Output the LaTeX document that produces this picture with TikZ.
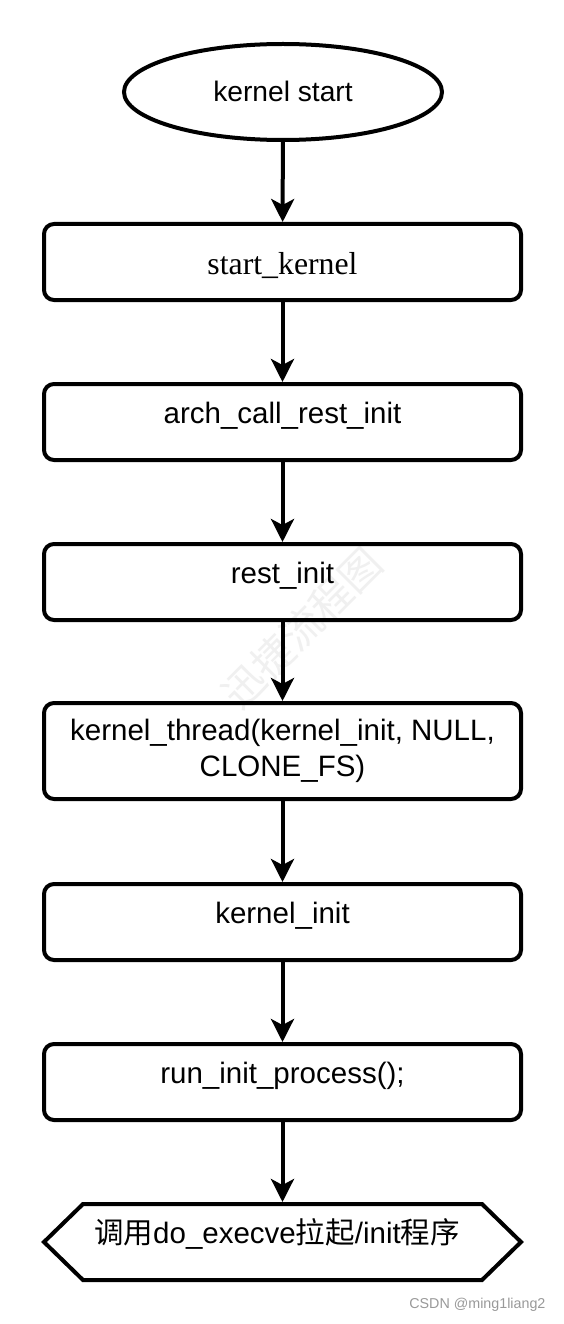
\documentclass[tikz,border=0pt]{standalone}
\usepackage{fontspec}
\setmainfont{Liberation Sans}
\newfontfamily\seriffont{Liberation Serif}
\newfontfamily\cjk{Noto Sans CJK SC}
\usetikzlibrary{shapes.geometric,arrows.meta}
\begin{document}
\begin{tikzpicture}[x=1pt,y=-1pt,
  txt/.style={font=\fontsize{29.5}{36}\selectfont},
  boxbase/.style={draw, line width=4pt, rounded corners=10pt, minimum width=477pt, minimum height=76pt, inner sep=0pt, align=center, txt},
  box/.style={boxbase, text height=12pt, text depth=10pt},
  flow/.style={line width=4pt, -{Stealth[length=23pt,width=23pt,inset=6pt]}}]
\useasboundingbox[fill=white] (0,0) rectangle (564,1324);
% watermark
\node[rotate=45, text=black!6, font=\cjk\fontsize{41}{44}\selectfont] (wm) at (302,628) {迅捷流程图};
\node[draw, line width=4pt, ellipse, minimum width=318pt, minimum height=96pt, inner sep=0pt, font=\fontsize{28.2}{32}\selectfont, text height=20pt, text depth=0pt] (n0) at (283,92) {kernel start};
\node[boxbase, font=\seriffont\fontsize{31.8}{34}\selectfont, text height=24pt, text depth=0pt] (n1) at (282.5,262) {start\_kernel};
\node[box] (n2) at (282.5,422) {arch\_call\_rest\_init};
\node[box] (n3) at (282.5,582) {rest\_init};
\node[boxbase, minimum height=96pt, yshift=1pt] (n4) at (282.5,752) {kernel\_thread(kernel\_init, NULL,\\CLONE\_FS)};
\node[box] (n5) at (282.5,922) {kernel\_init};
\node[box] (n6) at (282.5,1082) {run\_init\_process();};
\node[minimum width=477pt, minimum height=80pt, inner sep=0pt, outer sep=0pt] (n7) at (282.5,1242) {};
\node[txt, anchor=base, inner sep=0pt] (n7t) at (277,1243) {{\cjk 调用}do\_execve{\cjk 拉起}/init{\cjk 程序}};
\draw[line width=4pt, line join=miter] (44,1242) -- (83,1204) -- (482,1204) -- (521,1242) -- (482,1280) -- (83,1280) -- cycle;
\node[text=black!40, font=\fontsize{14.3}{16}\selectfont, anchor=east] (csdn) at (549,1305) {CSDN @ming1liang2};
\draw[flow] (n0) -- (n1);
\draw[flow] (n1) -- (n2);
\draw[flow] (n2) -- (n3);
\draw[flow] (n3) -- (n4);
\draw[flow] (n4) -- (n5);
\draw[flow] (n5) -- (n6);
\draw[flow] (n6) -- (n7.north);
\end{tikzpicture}
\end{document}
